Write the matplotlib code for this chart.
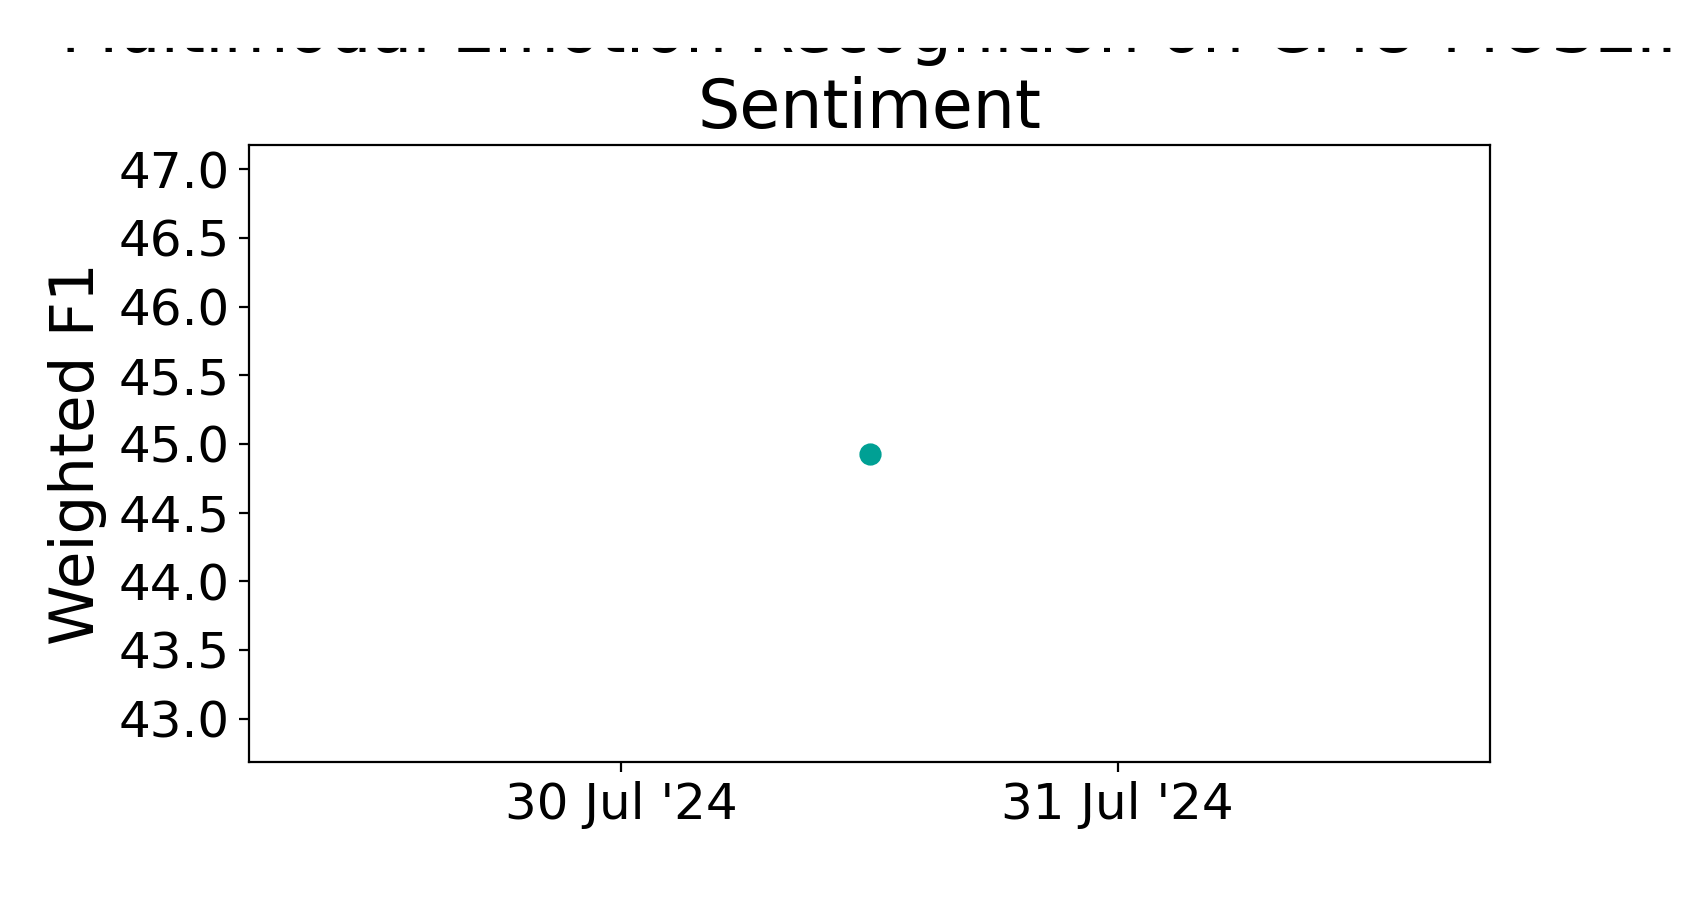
import numpy as np
import matplotlib
matplotlib.use("Agg")
import matplotlib.pyplot as plt
import matplotlib.dates as mdates
from matplotlib.ticker import MultipleLocator, FormatStrFormatter
from matplotlib.patches import Rectangle
from datetime import datetime, timedelta

# data
dates = [datetime(2024, 7, 30, 12, 0)]
scores = [44.93]
title = "Multimodal Emotion Recognition on CMU-MOSEI:\nSentiment"
ylabel = "Weighted F1"


def draw(filename):
    fig = plt.figure(figsize=(8.5, 4.5), dpi=200)
    ax = fig.add_axes([0.1465, 0.1533, 0.73, 0.6856])
    ax.plot(dates, scores, "o", color="#00A094", markersize=7)
    ax.set_xlim(dates[0] - timedelta(days=1.25), dates[0] + timedelta(days=1.25))
    ax.set_ylim(scores[0] * 0.95, scores[0] * 1.05)
    ax.xaxis.set_major_locator(mdates.DayLocator())
    ax.xaxis.set_major_formatter(mdates.DateFormatter("%d %b '%y"))
    ax.yaxis.set_major_locator(MultipleLocator(0.5))
    ax.yaxis.set_major_formatter(FormatStrFormatter("%.1f"))
    ax.tick_params(labelsize=18)
    ax.set_ylabel(ylabel, fontsize=22)
    ax.set_title(title, fontsize=24)
    # the top strip of the original is blank, cutting off the first title line
    fig.patches.append(Rectangle((0, 0.949), 1, 0.051, transform=fig.transFigure,
                                 color="white", zorder=10))
    fig.savefig(filename, dpi=200)


draw("out.png")
